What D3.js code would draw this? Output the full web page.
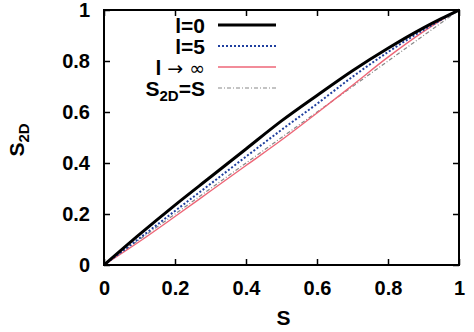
<!DOCTYPE html>
<html><head><meta charset="utf-8">
<script src="https://cdn.jsdelivr.net/npm/d3@7"></script>
<style>body{margin:0;background:#fff}svg{display:block}text{font-family:"Liberation Sans",Arial,sans-serif;font-weight:bold}</style>
</head><body><svg id="c" width="474" height="332"></svg>
<script>
const sVals = [0,0.1,0.2,0.3,0.4,0.5,0.6,0.7,0.8,0.9,0.95,1];
const l0   = [0,0.12,0.235,0.345,0.455,0.565,0.665,0.762,0.85,0.93,0.966,1];
const l5   = [0,0.105,0.212,0.318,0.425,0.53,0.632,0.738,0.835,0.922,0.962,1];
const lInf = [0,0.092,0.19,0.29,0.39,0.49,0.596,0.705,0.815,0.915,0.96,1];
const diagS = [0,1];
const diagV = [0,1];
const ticks = [0,0.2,0.4,0.6,0.8,1];
const tickLabels = ["0","0.2","0.4","0.6","0.8","1"];

const svg = d3.select("#c");
const L=104,R=459,T=10,B=265;
const x = d3.scaleLinear().domain([0,1]).range([L,R]);
const y = d3.scaleLinear().domain([0,1]).range([B,T]);
const fmt = d => tickLabels[ticks.indexOf(d)];

svg.append("g").attr("transform",`translate(0,${B})`)
  .call(d3.axisBottom(x).tickValues(ticks).tickSize(-6).tickPadding(12).tickFormat(fmt))
  .call(g=>{g.select(".domain").remove();g.selectAll("text").attr("font-size",20).attr("fill","#000").attr("dy","0.9em");g.selectAll("line").attr("stroke","#000").attr("stroke-width",1.5);});
svg.append("g").attr("transform",`translate(0,${T})`)
  .call(d3.axisTop(x).tickValues(ticks).tickSize(-6).tickFormat(""))
  .call(g=>{g.select(".domain").remove();g.selectAll("line").attr("stroke","#000").attr("stroke-width",1.5);});
svg.append("g").attr("transform",`translate(${L},0)`)
  .call(d3.axisLeft(y).tickValues(ticks).tickSize(-6).tickPadding(14).tickFormat(fmt))
  .call(g=>{g.select(".domain").remove();g.selectAll("text").attr("font-size",20).attr("fill","#000");g.selectAll("line").attr("stroke","#000").attr("stroke-width",1.5);});
svg.append("g").attr("transform",`translate(${R},0)`)
  .call(d3.axisRight(y).tickValues(ticks).tickSize(-6).tickFormat(""))
  .call(g=>{g.select(".domain").remove();g.selectAll("line").attr("stroke","#000").attr("stroke-width",1.5);});

const line = (xs,ys)=>d3.line().x((d,i)=>x(xs[i])).y(d=>y(d)).curve(d3.curveMonotoneX)(ys);

const series = [
  {name:"l0", vals:l0, xs:sVals, stroke:"#000", w:3, dash:null},
  {name:"l5", vals:l5, xs:sVals, stroke:"#1f3f9f", w:2, dash:"2,2"},
  {name:"linf", vals:lInf, xs:sVals, stroke:"#ee6677", w:1.4, dash:null},
  {name:"diag", vals:diagV, xs:diagS, stroke:"#888", w:1.2, dash:"4,2,1,2"}
];
const plot = svg.append("g");
series.slice().reverse().forEach(s=>{
  plot.append("path").attr("d",line(s.xs,s.vals)).attr("fill","none")
    .attr("stroke",s.stroke).attr("stroke-width",s.w).attr("stroke-dasharray",s.dash);
});

svg.append("rect").attr("x",L).attr("y",T).attr("width",R-L).attr("height",B-T)
  .attr("fill","none").attr("stroke","#000").attr("stroke-width",2);

const ly=[25,46,67,88];
const lg = svg.append("g");
series.forEach((s,i)=>{
  lg.append("line").attr("x1",218).attr("x2",276).attr("y1",ly[i]).attr("y2",ly[i])
    .attr("stroke",s.stroke).attr("stroke-width",s.w).attr("stroke-dasharray",s.dash);
});
const tx = (i)=>lg.append("text").attr("x",205).attr("y",ly[i]).attr("dy","0.36em").attr("text-anchor","end").attr("font-size",21);
tx(0).text("l=0");
tx(1).text("l=5");
const t2 = tx(2);
t2.append("tspan").text("l ");
t2.append("tspan").attr("font-weight","normal").attr("font-family","DejaVu Sans").attr("font-size",19).text("\u2192 \u221E");
const t3 = tx(3);
t3.append("tspan").text("S");
t3.append("tspan").attr("font-size",15).attr("dy",5).text("2D");
t3.append("tspan").attr("dy",-5).text("=S");

svg.append("text").attr("x",(L+R)/2+2).attr("y",325).attr("text-anchor","middle").attr("font-size",21).text("S");
const yt = svg.append("text").attr("transform","translate(24,140) rotate(-90)").attr("text-anchor","middle").attr("font-size",21);
yt.append("tspan").text("S");
yt.append("tspan").attr("font-size",15).attr("dy",5).text("2D");
</script></body></html>
